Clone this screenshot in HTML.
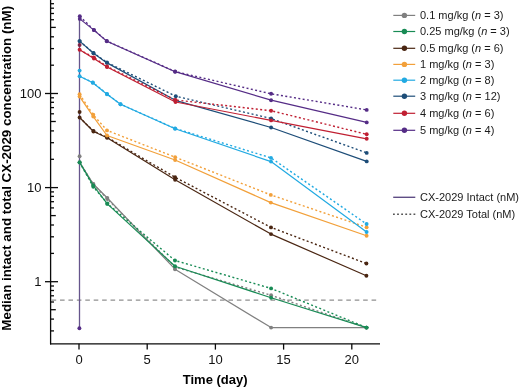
<!DOCTYPE html><html><head><meta charset="utf-8"><style>html,body{margin:0;padding:0;background:#fff;}svg{display:block}</style></head><body>
<svg width="520" height="389" viewBox="0 0 520 389" style="font-family:'Liberation Sans', sans-serif">
<rect width="520" height="389" fill="#fff"/>
<line x1="51.6" y1="300.2" x2="376.2" y2="300.2" stroke="#909090" stroke-width="1.2" stroke-dasharray="4.6 3.82"/>
<line x1="79.5" y1="328.3" x2="79.5" y2="17" stroke="#66558c" stroke-width="1.3"/>
<polyline points="79.6,162.2 93.3,184.0 107.3,198.0 175.0,269.2 271.1,327.6 366.5,327.6" fill="none" stroke="#808080" stroke-width="1.2" stroke-linejoin="round"/>
<polyline points="79.6,162.2 93.3,184.2 107.3,199.0 175.0,267.0 271.1,295.3 366.5,327.6" fill="none" stroke="#808080" stroke-width="1.4" stroke-dasharray="2 2.4"/>
<circle cx="79.6" cy="162.2" r="1.95" fill="#808080"/>
<circle cx="93.3" cy="184.0" r="1.95" fill="#808080"/>
<circle cx="107.3" cy="198.0" r="1.95" fill="#808080"/>
<circle cx="175.0" cy="269.2" r="1.95" fill="#808080"/>
<circle cx="271.1" cy="327.6" r="1.95" fill="#808080"/>
<circle cx="366.5" cy="327.6" r="1.95" fill="#808080"/>
<circle cx="79.6" cy="156.2" r="1.95" fill="#808080"/>
<circle cx="93.3" cy="184.2" r="1.95" fill="#808080"/>
<circle cx="107.3" cy="199.0" r="1.95" fill="#808080"/>
<circle cx="175.0" cy="267.0" r="1.95" fill="#808080"/>
<circle cx="271.1" cy="295.3" r="1.95" fill="#808080"/>
<circle cx="366.5" cy="327.6" r="1.95" fill="#808080"/>
<polyline points="79.6,162.4 93.3,185.5 107.3,203.9 175.0,266.2 271.1,297.7 366.5,327.6" fill="none" stroke="#188b55" stroke-width="1.2" stroke-linejoin="round"/>
<polyline points="79.6,162.4 93.3,186.7 107.3,203.5 175.0,260.5 271.1,288.4 366.5,327.6" fill="none" stroke="#188b55" stroke-width="1.4" stroke-dasharray="2 2.4"/>
<circle cx="79.6" cy="162.4" r="1.95" fill="#188b55"/>
<circle cx="93.3" cy="185.5" r="1.95" fill="#188b55"/>
<circle cx="107.3" cy="203.9" r="1.95" fill="#188b55"/>
<circle cx="175.0" cy="266.2" r="1.95" fill="#188b55"/>
<circle cx="271.1" cy="297.7" r="1.95" fill="#188b55"/>
<circle cx="366.5" cy="327.6" r="1.95" fill="#188b55"/>
<circle cx="79.6" cy="162.4" r="1.95" fill="#188b55"/>
<circle cx="93.3" cy="186.7" r="1.95" fill="#188b55"/>
<circle cx="107.3" cy="203.5" r="1.95" fill="#188b55"/>
<circle cx="175.0" cy="260.5" r="1.95" fill="#188b55"/>
<circle cx="271.1" cy="288.4" r="1.95" fill="#188b55"/>
<circle cx="366.5" cy="327.6" r="1.95" fill="#188b55"/>
<polyline points="79.6,117.5 93.5,131.5 107.1,137.7 175.1,179.7 271.0,234.1 366.4,275.8" fill="none" stroke="#4a2612" stroke-width="1.2" stroke-linejoin="round"/>
<polyline points="79.6,117.5 93.5,131.0 107.1,137.3 175.1,177.3 271.0,227.4 366.4,263.5" fill="none" stroke="#4a2612" stroke-width="1.4" stroke-dasharray="2 2.4"/>
<circle cx="79.6" cy="117.5" r="1.95" fill="#4a2612"/>
<circle cx="93.5" cy="131.5" r="1.95" fill="#4a2612"/>
<circle cx="107.1" cy="137.7" r="1.95" fill="#4a2612"/>
<circle cx="175.1" cy="179.7" r="1.95" fill="#4a2612"/>
<circle cx="271.0" cy="234.1" r="1.95" fill="#4a2612"/>
<circle cx="366.4" cy="275.8" r="1.95" fill="#4a2612"/>
<circle cx="79.6" cy="112.0" r="1.95" fill="#4a2612"/>
<circle cx="93.5" cy="131.0" r="1.95" fill="#4a2612"/>
<circle cx="107.1" cy="137.3" r="1.95" fill="#4a2612"/>
<circle cx="175.1" cy="177.3" r="1.95" fill="#4a2612"/>
<circle cx="271.0" cy="227.4" r="1.95" fill="#4a2612"/>
<circle cx="366.4" cy="263.5" r="1.95" fill="#4a2612"/>
<polyline points="79.6,96.6 93.3,116.6 107.0,135.5 175.1,160.0 270.8,202.6 366.6,235.7" fill="none" stroke="#f2a03a" stroke-width="1.2" stroke-linejoin="round"/>
<polyline points="79.6,94.3 93.3,114.8 107.0,130.4 175.1,157.1 270.8,194.9 366.6,227.3" fill="none" stroke="#f2a03a" stroke-width="1.4" stroke-dasharray="2 2.4"/>
<circle cx="79.6" cy="96.6" r="1.95" fill="#f2a03a"/>
<circle cx="93.3" cy="116.6" r="1.95" fill="#f2a03a"/>
<circle cx="107.0" cy="135.5" r="1.95" fill="#f2a03a"/>
<circle cx="175.1" cy="160.0" r="1.95" fill="#f2a03a"/>
<circle cx="270.8" cy="202.6" r="1.95" fill="#f2a03a"/>
<circle cx="366.6" cy="235.7" r="1.95" fill="#f2a03a"/>
<circle cx="79.6" cy="94.3" r="1.95" fill="#f2a03a"/>
<circle cx="93.3" cy="114.8" r="1.95" fill="#f2a03a"/>
<circle cx="107.0" cy="130.4" r="1.95" fill="#f2a03a"/>
<circle cx="175.1" cy="157.1" r="1.95" fill="#f2a03a"/>
<circle cx="270.8" cy="194.9" r="1.95" fill="#f2a03a"/>
<circle cx="366.6" cy="227.3" r="1.95" fill="#f2a03a"/>
<polyline points="79.6,76.2 92.8,82.7 107.0,94.2 120.5,104.3 175.1,128.7 271.0,161.6 366.6,232.0" fill="none" stroke="#22aae2" stroke-width="1.2" stroke-linejoin="round"/>
<polyline points="79.6,76.2 92.8,82.5 107.0,94.0 120.5,104.2 175.1,128.4 271.0,157.9 366.6,224.0" fill="none" stroke="#22aae2" stroke-width="1.4" stroke-dasharray="2 2.4"/>
<circle cx="79.6" cy="76.2" r="1.95" fill="#22aae2"/>
<circle cx="92.8" cy="82.7" r="1.95" fill="#22aae2"/>
<circle cx="107.0" cy="94.2" r="1.95" fill="#22aae2"/>
<circle cx="120.5" cy="104.3" r="1.95" fill="#22aae2"/>
<circle cx="175.1" cy="128.7" r="1.95" fill="#22aae2"/>
<circle cx="271.0" cy="161.6" r="1.95" fill="#22aae2"/>
<circle cx="366.6" cy="232.0" r="1.95" fill="#22aae2"/>
<circle cx="79.6" cy="70.6" r="1.95" fill="#22aae2"/>
<circle cx="92.8" cy="82.5" r="1.95" fill="#22aae2"/>
<circle cx="107.0" cy="94.0" r="1.95" fill="#22aae2"/>
<circle cx="120.5" cy="104.2" r="1.95" fill="#22aae2"/>
<circle cx="175.1" cy="128.4" r="1.95" fill="#22aae2"/>
<circle cx="271.0" cy="157.9" r="1.95" fill="#22aae2"/>
<circle cx="366.6" cy="224.0" r="1.95" fill="#22aae2"/>
<polyline points="79.6,41.1 93.5,53.2 107.0,62.9 175.3,100.3 271.1,127.5 366.7,161.4" fill="none" stroke="#1d4d78" stroke-width="1.2" stroke-linejoin="round"/>
<polyline points="79.6,41.1 93.5,53.0 107.0,62.5 175.8,96.2 271.1,118.5 366.7,152.9" fill="none" stroke="#1d4d78" stroke-width="1.4" stroke-dasharray="2 2.4"/>
<circle cx="79.6" cy="41.1" r="1.95" fill="#1d4d78"/>
<circle cx="93.5" cy="53.2" r="1.95" fill="#1d4d78"/>
<circle cx="107.0" cy="62.9" r="1.95" fill="#1d4d78"/>
<circle cx="175.3" cy="100.3" r="1.95" fill="#1d4d78"/>
<circle cx="271.1" cy="127.5" r="1.95" fill="#1d4d78"/>
<circle cx="366.7" cy="161.4" r="1.95" fill="#1d4d78"/>
<circle cx="79.6" cy="41.1" r="1.95" fill="#1d4d78"/>
<circle cx="93.5" cy="53.0" r="1.95" fill="#1d4d78"/>
<circle cx="107.0" cy="62.5" r="1.95" fill="#1d4d78"/>
<circle cx="175.8" cy="96.2" r="1.95" fill="#1d4d78"/>
<circle cx="271.1" cy="118.5" r="1.95" fill="#1d4d78"/>
<circle cx="366.7" cy="152.9" r="1.95" fill="#1d4d78"/>
<polyline points="79.6,49.7 93.9,58.5 107.0,67.0 175.5,102.0 271.1,120.4 366.7,138.8" fill="none" stroke="#c01f32" stroke-width="1.2" stroke-linejoin="round"/>
<polyline points="79.6,49.7 93.9,57.5 107.0,66.5 175.5,100.0 271.1,110.7 366.7,134.3" fill="none" stroke="#c01f32" stroke-width="1.4" stroke-dasharray="2 2.4"/>
<circle cx="79.6" cy="49.7" r="1.95" fill="#c01f32"/>
<circle cx="93.9" cy="58.5" r="1.95" fill="#c01f32"/>
<circle cx="107.0" cy="67.0" r="1.95" fill="#c01f32"/>
<circle cx="175.5" cy="102.0" r="1.95" fill="#c01f32"/>
<circle cx="271.1" cy="120.4" r="1.95" fill="#c01f32"/>
<circle cx="366.7" cy="138.8" r="1.95" fill="#c01f32"/>
<circle cx="79.6" cy="45.0" r="1.95" fill="#7d2446"/>
<circle cx="93.9" cy="57.5" r="1.95" fill="#c01f32"/>
<circle cx="107.0" cy="66.5" r="1.95" fill="#c01f32"/>
<circle cx="175.5" cy="100.0" r="1.95" fill="#c01f32"/>
<circle cx="271.1" cy="110.7" r="1.95" fill="#c01f32"/>
<circle cx="366.7" cy="134.3" r="1.95" fill="#c01f32"/>
<polyline points="79.8,18.9 93.9,30.1 106.8,41.2 175.1,71.7 271.1,100.2 366.7,122.4" fill="none" stroke="#552c86" stroke-width="1.2" stroke-linejoin="round"/>
<polyline points="79.8,16.2 93.9,30.0 106.8,41.0 175.1,71.5 271.1,93.8 366.7,109.9" fill="none" stroke="#552c86" stroke-width="1.4" stroke-dasharray="2 2.4"/>
<circle cx="79.8" cy="18.9" r="1.95" fill="#552c86"/>
<circle cx="93.9" cy="30.1" r="1.95" fill="#552c86"/>
<circle cx="106.8" cy="41.2" r="1.95" fill="#552c86"/>
<circle cx="175.1" cy="71.7" r="1.95" fill="#552c86"/>
<circle cx="271.1" cy="100.2" r="1.95" fill="#552c86"/>
<circle cx="366.7" cy="122.4" r="1.95" fill="#552c86"/>
<circle cx="79.8" cy="16.2" r="1.95" fill="#552c86"/>
<circle cx="93.9" cy="30.0" r="1.95" fill="#552c86"/>
<circle cx="106.8" cy="41.0" r="1.95" fill="#552c86"/>
<circle cx="175.1" cy="71.5" r="1.95" fill="#552c86"/>
<circle cx="271.1" cy="93.8" r="1.95" fill="#552c86"/>
<circle cx="366.7" cy="109.9" r="1.95" fill="#552c86"/>
<circle cx="79.4" cy="328.3" r="1.95" fill="#552c86"/>
<line x1="50.6" y1="0" x2="50.6" y2="344.4" stroke="#0a0a0a" stroke-width="1.3"/>
<line x1="50" y1="343.8" x2="380" y2="343.8" stroke="#0a0a0a" stroke-width="1.3"/>
<line x1="50.6" y1="330.9" x2="54" y2="330.9" stroke="#0a0a0a" stroke-width="1.3"/>
<line x1="50.6" y1="319.1" x2="54" y2="319.1" stroke="#0a0a0a" stroke-width="1.3"/>
<line x1="50.6" y1="309.7" x2="55.8" y2="309.7" stroke="#0a0a0a" stroke-width="1.3"/>
<line x1="50.6" y1="302.0" x2="54" y2="302.0" stroke="#0a0a0a" stroke-width="1.3"/>
<line x1="50.6" y1="295.8" x2="54" y2="295.8" stroke="#0a0a0a" stroke-width="1.3"/>
<line x1="50.6" y1="290.5" x2="54" y2="290.5" stroke="#0a0a0a" stroke-width="1.3"/>
<line x1="50.6" y1="286.0" x2="54" y2="286.0" stroke="#0a0a0a" stroke-width="1.3"/>
<line x1="45" y1="281.7" x2="58" y2="281.7" stroke="#0a0a0a" stroke-width="1.3"/>
<line x1="50.6" y1="253.4" x2="54" y2="253.4" stroke="#0a0a0a" stroke-width="1.3"/>
<line x1="50.6" y1="236.8" x2="54" y2="236.8" stroke="#0a0a0a" stroke-width="1.3"/>
<line x1="50.6" y1="225.0" x2="54" y2="225.0" stroke="#0a0a0a" stroke-width="1.3"/>
<line x1="50.6" y1="215.6" x2="55.8" y2="215.6" stroke="#0a0a0a" stroke-width="1.3"/>
<line x1="50.6" y1="207.9" x2="54" y2="207.9" stroke="#0a0a0a" stroke-width="1.3"/>
<line x1="50.6" y1="201.7" x2="54" y2="201.7" stroke="#0a0a0a" stroke-width="1.3"/>
<line x1="50.6" y1="196.4" x2="54" y2="196.4" stroke="#0a0a0a" stroke-width="1.3"/>
<line x1="50.6" y1="191.9" x2="54" y2="191.9" stroke="#0a0a0a" stroke-width="1.3"/>
<line x1="45" y1="187.6" x2="58" y2="187.6" stroke="#0a0a0a" stroke-width="1.3"/>
<line x1="50.6" y1="159.3" x2="54" y2="159.3" stroke="#0a0a0a" stroke-width="1.3"/>
<line x1="50.6" y1="142.7" x2="54" y2="142.7" stroke="#0a0a0a" stroke-width="1.3"/>
<line x1="50.6" y1="130.9" x2="54" y2="130.9" stroke="#0a0a0a" stroke-width="1.3"/>
<line x1="50.6" y1="121.5" x2="55.8" y2="121.5" stroke="#0a0a0a" stroke-width="1.3"/>
<line x1="50.6" y1="113.8" x2="54" y2="113.8" stroke="#0a0a0a" stroke-width="1.3"/>
<line x1="50.6" y1="107.6" x2="54" y2="107.6" stroke="#0a0a0a" stroke-width="1.3"/>
<line x1="50.6" y1="102.3" x2="54" y2="102.3" stroke="#0a0a0a" stroke-width="1.3"/>
<line x1="50.6" y1="97.8" x2="54" y2="97.8" stroke="#0a0a0a" stroke-width="1.3"/>
<line x1="45" y1="93.5" x2="58" y2="93.5" stroke="#0a0a0a" stroke-width="1.3"/>
<line x1="50.6" y1="65.2" x2="54" y2="65.2" stroke="#0a0a0a" stroke-width="1.3"/>
<line x1="50.6" y1="48.6" x2="54" y2="48.6" stroke="#0a0a0a" stroke-width="1.3"/>
<line x1="50.6" y1="36.8" x2="54" y2="36.8" stroke="#0a0a0a" stroke-width="1.3"/>
<line x1="50.6" y1="27.4" x2="55.8" y2="27.4" stroke="#0a0a0a" stroke-width="1.3"/>
<line x1="50.6" y1="19.7" x2="54" y2="19.7" stroke="#0a0a0a" stroke-width="1.3"/>
<line x1="50.6" y1="13.5" x2="54" y2="13.5" stroke="#0a0a0a" stroke-width="1.3"/>
<line x1="50.6" y1="8.2" x2="54" y2="8.2" stroke="#0a0a0a" stroke-width="1.3"/>
<line x1="50.6" y1="3.7" x2="54" y2="3.7" stroke="#0a0a0a" stroke-width="1.3"/>
<line x1="79.0" y1="343.8" x2="79.0" y2="349.6" stroke="#0a0a0a" stroke-width="1.3"/>
<text x="79.0" y="363.7" font-size="13" text-anchor="middle" fill="#111">0</text>
<line x1="147.2" y1="343.8" x2="147.2" y2="349.6" stroke="#0a0a0a" stroke-width="1.3"/>
<text x="147.2" y="363.7" font-size="13" text-anchor="middle" fill="#111">5</text>
<line x1="215.4" y1="343.8" x2="215.4" y2="349.6" stroke="#0a0a0a" stroke-width="1.3"/>
<text x="215.4" y="363.7" font-size="13" text-anchor="middle" fill="#111">10</text>
<line x1="283.6" y1="343.8" x2="283.6" y2="349.6" stroke="#0a0a0a" stroke-width="1.3"/>
<text x="283.6" y="363.7" font-size="13" text-anchor="middle" fill="#111">15</text>
<line x1="351.8" y1="343.8" x2="351.8" y2="349.6" stroke="#0a0a0a" stroke-width="1.3"/>
<text x="351.8" y="363.7" font-size="13" text-anchor="middle" fill="#111">20</text>
<text x="41.5" y="97.8" font-size="13" text-anchor="end" fill="#111">100</text>
<text x="41.5" y="191.9" font-size="13" text-anchor="end" fill="#111">10</text>
<text x="41.5" y="286.0" font-size="13" text-anchor="end" fill="#111">1</text>
<text x="215.2" y="383.8" font-size="13" font-weight="bold" text-anchor="middle" fill="#000">Time (day)</text>
<text transform="translate(11.2,168.3) rotate(-90)" font-size="13.35" font-weight="bold" text-anchor="middle" fill="#000">Median intact and total CX-2029 concentration (nM)</text>
<line x1="393.3" y1="15.4" x2="415.2" y2="15.4" stroke="#808080" stroke-width="1.2"/>
<circle cx="404.4" cy="15.4" r="2.7" fill="#808080"/>
<text x="420" y="18.8" font-size="11" fill="#1a1a1a">0.1 mg/kg (<tspan font-style="italic">n</tspan> = 3)</text>
<line x1="393.3" y1="31.5" x2="415.2" y2="31.5" stroke="#188b55" stroke-width="1.2"/>
<circle cx="404.4" cy="31.5" r="2.7" fill="#188b55"/>
<text x="420" y="34.9" font-size="11" fill="#1a1a1a">0.25 mg/kg (<tspan font-style="italic">n</tspan> = 3)</text>
<line x1="393.3" y1="48.3" x2="415.2" y2="48.3" stroke="#4a2612" stroke-width="1.2"/>
<circle cx="404.4" cy="48.3" r="2.7" fill="#4a2612"/>
<text x="420" y="51.7" font-size="11" fill="#1a1a1a">0.5 mg/kg (<tspan font-style="italic">n</tspan> = 6)</text>
<line x1="393.3" y1="64.4" x2="415.2" y2="64.4" stroke="#f2a03a" stroke-width="1.2"/>
<circle cx="404.4" cy="64.4" r="2.7" fill="#f2a03a"/>
<text x="420" y="67.8" font-size="11" fill="#1a1a1a">1 mg/kg (<tspan font-style="italic">n</tspan> = 3)</text>
<line x1="393.3" y1="80.2" x2="415.2" y2="80.2" stroke="#22aae2" stroke-width="1.2"/>
<circle cx="404.4" cy="80.2" r="2.7" fill="#22aae2"/>
<text x="420" y="83.6" font-size="11" fill="#1a1a1a">2 mg/kg (<tspan font-style="italic">n</tspan> = 8)</text>
<line x1="393.3" y1="96.2" x2="415.2" y2="96.2" stroke="#1d4d78" stroke-width="1.2"/>
<circle cx="404.4" cy="96.2" r="2.7" fill="#1d4d78"/>
<text x="420" y="99.6" font-size="11" fill="#1a1a1a">3 mg/kg (<tspan font-style="italic">n</tspan> = 12)</text>
<line x1="393.3" y1="113.3" x2="415.2" y2="113.3" stroke="#c01f32" stroke-width="1.2"/>
<circle cx="404.4" cy="113.3" r="2.7" fill="#c01f32"/>
<text x="420" y="116.7" font-size="11" fill="#1a1a1a">4 mg/kg (<tspan font-style="italic">n</tspan> = 6)</text>
<line x1="393.3" y1="130.3" x2="415.2" y2="130.3" stroke="#552c86" stroke-width="1.2"/>
<circle cx="404.4" cy="130.3" r="2.7" fill="#552c86"/>
<text x="420" y="133.7" font-size="11" fill="#1a1a1a">5 mg/kg (<tspan font-style="italic">n</tspan> = 4)</text>
<line x1="393.2" y1="197.3" x2="415.3" y2="197.3" stroke="#5f4d85" stroke-width="1.4"/>
<line x1="393.0" y1="214.2" x2="415.3" y2="214.2" stroke="#555" stroke-width="1.4" stroke-dasharray="1.8 2.3"/>
<text x="420" y="201.2" font-size="11" fill="#1a1a1a">CX-2029 Intact (nM)</text>
<text x="420" y="217.6" font-size="11" fill="#1a1a1a">CX-2029 Total (nM)</text>
</svg></body></html>
